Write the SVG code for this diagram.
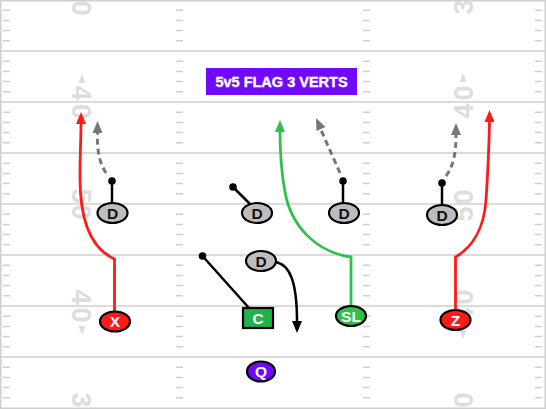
<svg xmlns="http://www.w3.org/2000/svg" width="546" height="409" viewBox="0 0 546 409" xmlns:xlink="http://www.w3.org/1999/xlink">
<defs>
<style>
.yl{stroke:#cfcfcf;stroke-width:1.5;fill:none}
.hs{stroke:#cfcfcf;stroke-width:1.5;fill:none}
.num{font-family:"Liberation Sans",Arial,sans-serif;font-weight:bold;font-size:27px;fill:#dddddd;text-anchor:middle}
.tri{fill:#dddddd}
.lbl{font-family:"Liberation Sans",Arial,sans-serif;font-weight:bold;font-size:15.5px;text-anchor:middle}
.w{fill:#ffffff}
.k{fill:#111111}
.pl{stroke:#000;stroke-width:2.2}
.route{fill:none;stroke-width:2.8}
.dash{fill:none;stroke:#777777;stroke-width:3;stroke-dasharray:6 4}
.stem{fill:none;stroke:#000;stroke-width:2.5}
</style>
<path id="hash" class="hs" d="M0,10.2h7M0,20.4h7M0,30.6h7M0,40.8h7M0,61.2h7M0,71.4h7M0,81.6h7M0,91.8h7M0,112.2h7M0,122.4h7M0,132.6h7M0,142.8h7M0,163.2h7M0,173.4h7M0,183.6h7M0,193.8h7M0,214.2h7M0,224.4h7M0,234.6h7M0,244.8h7M0,265.2h7M0,275.4h7M0,285.6h7M0,295.8h7M0,316.2h7M0,326.4h7M0,336.6h7M0,346.8h7M0,367.2h7M0,377.4h7M0,387.6h7M0,397.8h7"/>
</defs>
<g id="field">
<rect x="0" y="0" width="546" height="409" fill="#ffffff"/>
<rect x="0.75" y="0.75" width="544.5" height="407.5" class="yl"/>
<path class="yl" d="M0,51H546M0,102H546M0,153H546M0,204H546M0,255H546M0,306H546M0,357H546"/>
<use xlink:href="#hash" x="3"/>
<use xlink:href="#hash" x="176"/>
<use xlink:href="#hash" x="363"/>
<use xlink:href="#hash" x="535"/>
<g class="num">
<text transform="translate(82,8) rotate(90)" dy="0.36em">0</text>
<text transform="translate(82,93) rotate(90)" dy="0.36em">4</text>
<text transform="translate(82,111.5) rotate(90)" dy="0.36em">0</text>
<text transform="translate(82,196) rotate(90)" dy="0.36em">5</text>
<text transform="translate(82,212) rotate(90)" dy="0.36em">0</text>
<text transform="translate(82,297) rotate(90)" dy="0.36em">4</text>
<text transform="translate(82,315) rotate(90)" dy="0.36em">0</text>
<text transform="translate(82,400) rotate(90)" dy="0.36em">3</text>
<text transform="translate(463,7) rotate(-90)" dy="0.36em">3</text>
<text transform="translate(463,93) rotate(-90)" dy="0.36em">0</text>
<text transform="translate(463,111) rotate(-90)" dy="0.36em">4</text>
<text transform="translate(463,197) rotate(-90)" dy="0.36em">0</text>
<text transform="translate(463,214) rotate(-90)" dy="0.36em">5</text>
<text transform="translate(463,297) rotate(-90)" dy="0.36em">0</text>
<text transform="translate(463,315) rotate(-90)" dy="0.36em">4</text>
<text transform="translate(463,400) rotate(-90)" dy="0.36em">0</text>
</g>
<polygon class="tri" points="82,74 85.5,83 78.5,83"/>
<polygon class="tri" points="78.5,326 85.5,326 82,335"/>
<polygon class="tri" points="463,73 466.5,82 459.5,82"/>
<polygon class="tri" points="459.5,330 466.5,330 463,339"/>
</g>
<g id="title">
<rect x="206" y="68" width="151" height="27" fill="#7108ff"/>
<text x="281.5" y="86.5" font-family="'Liberation Sans',Arial,sans-serif" font-weight="bold" font-size="14.5" fill="#ffffff" stroke="#ffffff" stroke-width="0.4" text-anchor="middle">5v5 FLAG 3 VERTS</text>
</g>
<g id="connectors">
<path class="route" stroke="#ff1a1a" d="M114.5,311 L114.5,259 C92,249 80,222 80,178 C80,152 81,138 81,124"/>
<polygon fill="#ff1a1a" points="81,112 86,124 76,124"/>
<path class="route" stroke="#2fc04a" d="M351,306 L351,257 C316,252 291,226 285,192 C281,170 280,150 280,132"/>
<polygon fill="#2fc04a" points="280,120 285,132 275,132"/>
<path class="route" stroke="#ff1a1a" d="M455.5,310 L455.5,257 C471,248 484,230 486,200 C488,172 489,145 489.5,122"/>
<polygon fill="#ff1a1a" points="489.5,110 494.5,122 484.5,122"/>
<path class="stem" d="M112,181 V203"/>
<circle cx="112" cy="181" r="3.8" fill="#000"/>
<path class="dash" d="M106,173 C99,162 97,150 97.5,133"/>
<polygon fill="#777777" points="97.5,121 102.5,133 92.5,133"/>
<path class="stem" d="M233,187 L252,206"/>
<circle cx="233" cy="187" r="3.8" fill="#000"/>
<path class="stem" d="M343,181 V203"/>
<circle cx="343" cy="181" r="3.8" fill="#000"/>
<path class="dash" d="M340,173 L321,130"/>
<polygon fill="#777777" points="316,118 325.5,127 316.5,131"/>
<path class="stem" d="M442,183 V205"/>
<circle cx="442" cy="183" r="3.8" fill="#000"/>
<path class="dash" d="M446,176 C454,165 456,152 456,135"/>
<polygon fill="#777777" points="456,123 461,135 451,135"/>
<path class="stem" d="M202.5,256 L249,308"/>
<circle cx="202.5" cy="256" r="3.8" fill="#000"/>
<path class="stem" d="M275,262 C290,264 297,282 297,322"/>
<polygon fill="#000" points="297,333 292,321 302,321"/>
</g>
<g id="D1"><ellipse class="pl" cx="112.5" cy="213" rx="15" ry="10" fill="#bdbdbd"/><text class="lbl k" x="112.5" y="218.5">D</text></g>
<g id="D2"><ellipse class="pl" cx="257" cy="213" rx="15" ry="10" fill="#bdbdbd"/><text class="lbl k" x="257" y="218.5">D</text></g>
<g id="D3"><ellipse class="pl" cx="344" cy="213" rx="15" ry="10" fill="#bdbdbd"/><text class="lbl k" x="344" y="218.5">D</text></g>
<g id="D4"><ellipse class="pl" cx="442" cy="215" rx="15" ry="10" fill="#bdbdbd"/><text class="lbl k" x="442" y="220.5">D</text></g>
<g id="D5"><ellipse class="pl" cx="261" cy="261" rx="15" ry="10" fill="#bdbdbd"/><text class="lbl k" x="261" y="266.5">D</text></g>
<g id="X"><ellipse class="pl" cx="115" cy="321.5" rx="15" ry="10" fill="#ff1a1a"/><text class="lbl w" x="115" y="327">X</text></g>
<g id="C"><rect class="pl" x="243" y="308" width="30" height="20" fill="#22b24c"/><text class="lbl w" x="258" y="323.5">C</text></g>
<g id="SL"><ellipse class="pl" cx="351" cy="316" rx="15" ry="10" fill="#2fc04a"/><text class="lbl w" x="351" y="321.5">SL</text></g>
<g id="Z"><ellipse class="pl" cx="455.5" cy="320" rx="15" ry="10" fill="#ff1a1a"/><text class="lbl w" x="455.5" y="325.5">Z</text></g>
<g id="Q"><ellipse class="pl" cx="261" cy="371.5" rx="14" ry="10" fill="#7108ff"/><text class="lbl w" x="261" y="377">Q</text></g>
</svg>
